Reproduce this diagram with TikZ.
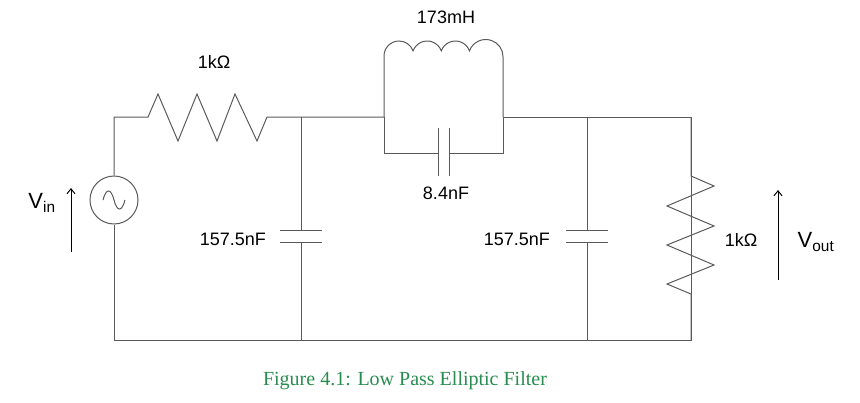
\documentclass[tikz,border=0pt]{standalone}
\usetikzlibrary{arrows.meta}
\usepackage{fontspec}
\setmainfont{Liberation Sans}
\newfontfamily\capfont{Liberation Serif}
\definecolor{wire}{RGB}{90,90,90}
\definecolor{capgreen}{RGB}{40,140,80}
\begin{document}
\begin{tikzpicture}[x=1pt,y=-1pt,
  w/.style={draw=wire,line width=1pt},
  lbl/.style={font=\fontsize{18}{20}\selectfont,inner sep=0pt},
  varrow/.style={draw=black,line width=1pt,->,>={Straight Barb[length=5pt,width=8pt]}}]
\useasboundingbox (0,0) rectangle (860,402);
% coordinates
\coordinate (tl) at (114,117);
\coordinate (bl) at (114,340);
\coordinate (n1t) at (301,117);
\coordinate (n1b) at (301,340);
\coordinate (lcL) at (384,117);
\coordinate (lcR) at (503,117);
\coordinate (n2t) at (587,117);
\coordinate (n2b) at (587,340);
\coordinate (rt) at (691,117);
\coordinate (rb) at (691,340);
% source
\node[circle,draw=wire,line width=1pt,minimum size=48pt,inner sep=0pt] (src) at (114,200) {};
\draw[wire,line width=1pt] (src.center) ++(-11,0) .. controls +(3,-12) and +(-3,-12) .. ++(11,0) .. controls +(3,12) and +(-3,12) .. ++(11,0);
\draw[w] (src.north) -- (tl) -- (148,117) -- (158,94) -- (178,141) -- (197,94) -- (217,141) -- (235,94) -- (257,141) -- (267,117) -- (n1t) -- (lcL);
\draw[w] (src.south) -- (bl) -- (rb) -- (rt) -- (lcR);
% shunt caps
\foreach \x/\n in {301/a,587/b}{
  \draw[w] (\x,117) -- (\x,230) (\x,242) -- (\x,340);
  \draw[w] (\x-21,230) -- (\x+21,230) (\x-21,242) -- (\x+21,242);
}
% LC tank
\draw[w] (lcL) -- (384,56) arc[start angle=180,end angle=340,radius=15]
  arc[start angle=200,end angle=340,radius=15]
  arc[start angle=200,end angle=340,radius=15]
  arc[start angle=200,end angle=360,radius=17.3] -- (lcR);
\draw[w] (lcL) -- (384,153) -- (438,153) (449,153) -- (503,153) -- (lcR);
\draw[w] (438,128) -- (438,176) (449,128) -- (449,176);
% load resistor
\draw[w] (rt) -- (691,176) -- (714,186) -- (667,206) -- (714,226) -- (667,245) -- (714,265) -- (667,284) -- (691,294) -- (rb);
% labels
\node[lbl] (l1) at (214,62) {1kΩ};
\node[lbl] (l2) at (446,17) {173mH};
\node[lbl] (l3) at (446,193) {8.4nF};
\node[lbl,anchor=east] (l4) at (266,239) {157.5nF};
\node[lbl,anchor=east] (l5) at (550,239) {157.5nF};
\node[lbl] (l6) at (741,240) {1kΩ};
\node[lbl,font=\fontsize{22}{24}\selectfont] (vin) at (42,203) {V\textsubscript{in}};
\node[lbl,font=\fontsize{22}{24}\selectfont] (vout) at (816,242) {V\textsubscript{out}};
\coordinate (a1s) at (71,252); \coordinate (a1e) at (71,188);
\coordinate (a2s) at (778,280); \coordinate (a2e) at (778,190);
\draw[varrow] (a1s) -- (a1e);
\draw[varrow] (a2s) -- (a2e);
\node[inner sep=0pt,text=capgreen,font=\capfont\fontsize{20}{22}\selectfont] (cap) at (405,381) {Figure 4.1: Low Pass Elliptic Filter};
\end{tikzpicture}
\end{document}
